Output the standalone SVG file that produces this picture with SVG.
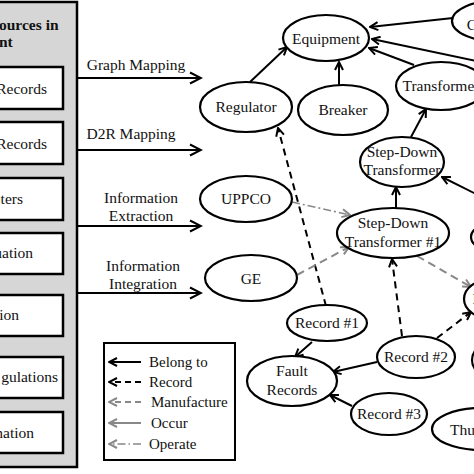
<svg xmlns="http://www.w3.org/2000/svg" width="474" height="474" viewBox="0 0 474 474">
<style>
text{font-size:15.5px;fill:#111}
.n ellipse{fill:#fff;stroke:#000;stroke-width:2.2}
.n text{text-anchor:middle}
.box{fill:#fff;stroke:#000;stroke-width:2.5}
.b{stroke:#000;stroke-width:2;fill:none}
.rec{stroke:#000;stroke-width:2;fill:none;stroke-dasharray:7 5}
.man{stroke:#888;stroke-width:2;fill:none;stroke-dasharray:8 5}
.occ{stroke:#888;stroke-width:2;fill:none}
.op{stroke:#888;stroke-width:1.6;fill:none;stroke-dasharray:8 3 2 3}
.lg{font-size:15px}
</style>
<defs>
<marker id="ak" markerWidth="10" markerHeight="10" refX="9" refY="5" orient="auto" markerUnits="userSpaceOnUse"><path d="M1,1 L9,5 L1,9" fill="none" stroke="#000" stroke-width="2"/></marker>
<marker id="ag" markerWidth="10" markerHeight="10" refX="9" refY="5" orient="auto" markerUnits="userSpaceOnUse"><path d="M1,1 L9,5 L1,9" fill="none" stroke="#888" stroke-width="2"/></marker>
<marker id="abig" markerWidth="14" markerHeight="14" refX="12" refY="7" orient="auto" markerUnits="userSpaceOnUse"><path d="M1,1.5 L12,7 L1,12.5" fill="none" stroke="#000" stroke-width="2"/></marker>
</defs>
<rect width="474" height="474" fill="#fff"/>
<g font-family="Liberation Serif, Times New Roman, DejaVu Serif, serif">
<g id="panel">
<rect x="-10" y="2" width="87" height="465" fill="#d6d6d6" stroke="#000" stroke-width="2.5"/>
<text x="-1" y="30" font-weight="bold">ources in</text>
<text x="-1" y="47" font-weight="bold">nt</text>
<rect class="box" x="-10" y="67" width="73" height="42"/>
<text x="47" y="94" text-anchor="end">Records</text>
<rect class="box" x="-10" y="122" width="73" height="42"/>
<text x="47" y="149" text-anchor="end">Records</text>
<rect class="box" x="-10" y="178" width="73" height="42"/>
<text x="23" y="204" text-anchor="end">ters</text>
<rect class="box" x="-10" y="233" width="73" height="41"/>
<text x="33" y="258" text-anchor="end">uation</text>
<rect class="box" x="-10" y="295" width="73" height="41"/>
<text x="19" y="320" text-anchor="end">ion</text>
<rect class="box" x="-10" y="357" width="73" height="41"/>
<text x="58" y="382" text-anchor="end">gulations</text>
<rect class="box" x="-10" y="412" width="73" height="41"/>
<text x="34" y="438" text-anchor="end">nation</text>
</g>

<g id="process">
<line class="b" x1="77" y1="78" x2="201" y2="78" marker-end="url(#abig)"/>
<line class="b" x1="77" y1="150" x2="201" y2="150" marker-end="url(#abig)"/>
<line class="b" x1="77" y1="226" x2="201" y2="226" marker-end="url(#abig)"/>
<line class="b" x1="77" y1="293" x2="201" y2="293" marker-end="url(#abig)"/>
<text x="136" y="70" text-anchor="middle">Graph Mapping</text>
<text x="131" y="139" text-anchor="middle">D2R Mapping</text>
<text x="141" y="203" text-anchor="middle">Information</text>
<text x="141" y="221" text-anchor="middle">Extraction</text>
<text x="143" y="271" text-anchor="middle">Information</text>
<text x="143" y="289" text-anchor="middle">Integration</text>
</g>

<g id="connectors">
<line class="b" x1="250" y1="82" x2="287" y2="47" marker-end="url(#ak)"/>
<line class="b" x1="339" y1="85" x2="339" y2="62" marker-end="url(#ak)"/>
<line class="b" x1="414" y1="65" x2="369" y2="48" marker-end="url(#ak)"/>
<line class="b" x1="453" y1="18" x2="370" y2="27" marker-end="url(#ak)"/>
<line class="b" x1="476" y1="61" x2="372" y2="39" marker-end="url(#ak)"/>
<line class="b" x1="411" y1="137" x2="426" y2="109" marker-end="url(#ak)"/>
<line class="b" x1="476" y1="194" x2="442" y2="177" marker-end="url(#ak)"/>
<line class="b" x1="396" y1="208" x2="396" y2="187" marker-end="url(#ak)"/>
<line class="b" x1="312" y1="342" x2="295" y2="357" marker-end="url(#ak)"/>
<line class="b" x1="377" y1="362" x2="333" y2="372" marker-end="url(#ak)"/>
<line class="b" x1="352" y1="406" x2="330" y2="395" marker-end="url(#ak)"/>
<line class="rec" x1="326" y1="306" x2="278" y2="128" marker-end="url(#ak)"/>
<line class="rec" x1="402" y1="336" x2="392" y2="259" marker-end="url(#ak)"/>
<line class="rec" x1="437" y1="338" x2="471" y2="312" marker-end="url(#ak)"/>
<line class="man" x1="297" y1="275" x2="349" y2="247" marker-end="url(#ag)"/>
<line class="man" x1="417" y1="256" x2="471" y2="287" marker-end="url(#ag)"/>
<line class="op" x1="292" y1="202" x2="350" y2="215" marker-end="url(#ag)"/>
</g>

<g id="equipment" class="n"><ellipse cx="326" cy="38" rx="43" ry="23"/><text x="326" y="44">Equipment</text></g>
<g id="c-node" class="n"><ellipse cx="500" cy="21" rx="48" ry="21"/><text x="472" y="30">C</text></g>
<g id="regulator" class="n"><ellipse cx="246" cy="107" rx="46" ry="25"/><text x="246" y="112">Regulator</text></g>
<g id="breaker" class="n"><ellipse cx="343" cy="110" rx="45" ry="25"/><text x="343" y="115">Breaker</text></g>
<g id="transformer" class="n"><ellipse cx="441" cy="86" rx="45" ry="24"/><text x="441" y="91">Transformer</text></g>
<g id="stepdown" class="n"><ellipse cx="402" cy="162" rx="42" ry="25"/><text x="402" y="157">Step-Down</text><text x="402" y="175">Transformer</text></g>
<g id="uppco" class="n"><ellipse cx="246" cy="199" rx="46" ry="23"/><text x="246" y="204">UPPCO</text></g>
<g id="ge" class="n"><ellipse cx="251" cy="278" rx="46" ry="23"/><text x="251" y="284">GE</text></g>
<g id="stepdown1" class="n"><ellipse cx="393" cy="233" rx="56" ry="25"/><text x="393" y="228">Step-Down</text><text x="393" y="247">Transformer #1</text></g>
<g id="right-top" class="n"><ellipse cx="502" cy="237" rx="31" ry="16"/></g>
<g id="right-mid" class="n"><ellipse cx="492" cy="299" rx="28" ry="20"/><text x="475" y="304">I</text></g>
<g id="right-low" class="n"><ellipse cx="502" cy="360" rx="30" ry="21"/></g>
<g id="record1" class="n"><ellipse cx="327" cy="323" rx="40" ry="18"/><text x="327" y="328">Record #1</text></g>
<g id="fault" class="n"><ellipse cx="292" cy="381" rx="45" ry="25"/><text x="292" y="376">Fault</text><text x="292" y="395">Records</text></g>
<g id="record2" class="n"><ellipse cx="416" cy="357" rx="39" ry="21"/><text x="416" y="362">Record #2</text></g>
<g id="record3" class="n"><ellipse cx="389" cy="414" rx="38" ry="21"/><text x="389" y="419">Record #3</text></g>
<g id="thu" class="n"><ellipse cx="481" cy="429" rx="49" ry="21"/><text x="450" y="435" text-anchor="start" style="text-anchor:start">Thu</text></g>

<g id="legend">
<rect x="104" y="343" width="131" height="117" fill="#fff" stroke="#000" stroke-width="2"/>
<line class="b" x1="141" y1="362" x2="109" y2="362" marker-end="url(#ak)"/>
<line class="rec" x1="141" y1="382" x2="109" y2="382" marker-end="url(#ak)" style="stroke-dasharray:6 4"/>
<line class="man" x1="141" y1="402" x2="109" y2="402" marker-end="url(#ag)" style="stroke-dasharray:6 4"/>
<line class="occ" x1="141" y1="423" x2="109" y2="423" marker-end="url(#ag)"/>
<line class="op" x1="141" y1="444" x2="109" y2="444" marker-end="url(#ag)" style="stroke-dasharray:8 3 1.5 3"/>
<text class="lg" x="149" y="367">Belong to</text>
<text class="lg" x="149" y="387">Record</text>
<text class="lg" x="151" y="407">Manufacture</text>
<text class="lg" x="151" y="428">Occur</text>
<text class="lg" x="149" y="449">Operate</text>
</g>
</g>
</svg>
